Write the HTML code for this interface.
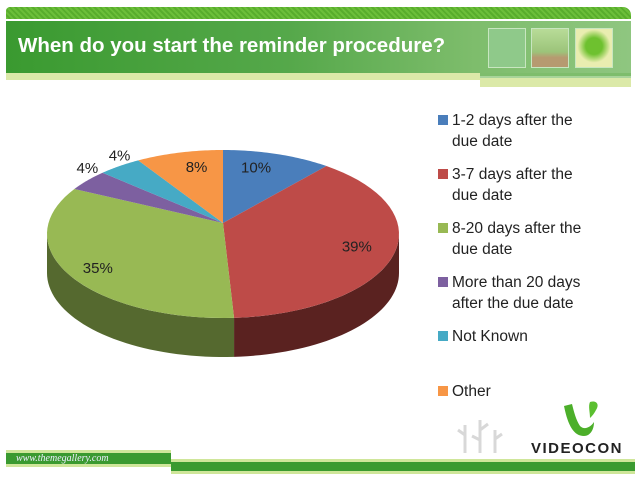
<!DOCTYPE html>
<html><head><meta charset="utf-8">
<style>
body{margin:0;width:638px;height:478px;overflow:hidden;background:#fff;font-family:"Liberation Sans",sans-serif;position:relative}
.abs{position:absolute}
.leg{position:absolute;left:452px;font-size:15.5px;color:#222;line-height:21px;font-family:"Liberation Sans",sans-serif}
.sw{position:absolute;left:438px;width:10px;height:10px}
</style></head><body>
<div class="abs" style="left:6px;top:7px;width:625px;height:12px;background:repeating-linear-gradient(45deg,#6cbf3a 0 2px,#58ad2c 2px 4px);border-radius:4px 8px 0 0"></div>
<div class="abs" style="left:6px;top:21px;width:625px;height:52px;background:linear-gradient(90deg,#3a9a30,#55a84a 45%,#7ebd6c 75%,#8fc680)"></div>
<div class="abs" style="left:6px;top:73px;width:474px;height:7px;background:#dbe9a8"></div>
<div class="abs" style="left:480px;top:73px;width:151px;height:14px;background:linear-gradient(#7ebd6c 0 3px,#a8d49a 3px 5px,#dbe9a8 5px)"></div>
<div class="abs" style="left:18px;top:34px;color:#fff;font-weight:bold;font-size:20.5px">When do you start the reminder procedure?</div>
<div class="abs" style="left:488px;top:28px;width:36px;height:38px;background:#8fc98a;border:1px solid #c8e6c0"></div>
<div class="abs" style="left:531px;top:28px;width:36px;height:38px;background:linear-gradient(#b8dc98,#9cc47a 60%,#b69a70 75%);border:1px solid #c8e6c0"></div>
<div class="abs" style="left:575px;top:28px;width:36px;height:38px;background:radial-gradient(circle at 50% 45%,#6ec12f 30%,#e9edb0 60%);border:1px solid #c8e6c0"></div>

<svg class="abs" style="left:0;top:0" width="638" height="478" id="pie"></svg>

<div class="sw" style="top:115px;background:#4a7ebb"></div>
<div class="leg" style="top:110px">1-2 days after the<br>due date</div>
<div class="sw" style="top:169px;background:#be4b48"></div>
<div class="leg" style="top:164px">3-7 days after the<br>due date</div>
<div class="sw" style="top:223px;background:#98b954"></div>
<div class="leg" style="top:218px">8-20 days after the<br>due date</div>
<div class="sw" style="top:277px;background:#7d60a0"></div>
<div class="leg" style="top:272px">More than 20 days<br>after the due date</div>
<div class="sw" style="top:331px;background:#46aac5"></div>
<div class="leg" style="top:326px">Not Known</div>
<div class="sw" style="top:386px;background:#f79646"></div>
<div class="leg" style="top:381px">Other</div>

<svg class="abs" style="left:455px;top:415px" width="60" height="40">
<g stroke="#d8d8d8" stroke-width="3" fill="none"><path d="M10 38 V10 M25 38 V5 M40 38 V15 M10 20 l-7 -5 M25 15 l8 -6 M40 24 l7 -5 M25 25 l-8 -4"/></g></svg>
<svg class="abs" style="left:560px;top:398px" width="44" height="44">
<path d="M4 8 C8 28 14 38 24 38 C30 38 34 32 34 24 C30 30 24 32 20 28 C16 22 14 14 12 6 Z" fill="#4caf2a"/>
<path d="M30 4 C36 2 40 6 36 12 C34 16 32 18 30 20 C30 14 28 8 30 4Z" fill="#5bbf30"/></svg>
<div class="abs" style="left:531px;top:440px;font-weight:bold;font-size:15px;color:#222;letter-spacing:1.5px">VIDEOCON</div>

<div class="abs" style="left:6px;top:450px;width:165px;height:17px;background:#cfe69a"></div>
<div class="abs" style="left:6px;top:453px;width:165px;height:11px;background:#3a9a30"></div>
<div class="abs" style="left:171px;top:459px;width:464px;height:15px;background:#cfe69a"></div>
<div class="abs" style="left:171px;top:462px;width:464px;height:9px;background:#3a9a30"></div>
<div class="abs" style="left:16px;top:453px;color:#eef;font-family:'Liberation Serif',serif;font-style:italic;font-size:10px">www.themegallery.com</div>

<script>
const categories=["1-2 days","3-7 days","8-20 days","Over 20 days","Not Known","Other"];
const values=[10,39,35,4,4,8];
const valueLabels=["10%","39%","35%","4%","4%","8%"];
const colors=["#4a7ebb","#be4b48","#98b954","#7d60a0","#46aac5","#f79646"];
const sideColors=["#2f4f78","#5a2220","#55692f","#4a3960","#2b6676","#9a5a2a"];
const cx=223,cy=234,rx=176,ry=84,depth=39,apexY=223;
const svg=document.getElementById('pie');
const NS='http://www.w3.org/2000/svg';
const total=values.reduce((a,b)=>a+b,0);
function pt(a,d){return [cx+rx*Math.sin(a),cy-ry*Math.cos(a)+(d||0)];}
let acc=0;const slices=[];
values.forEach((v,i)=>{const a0=acc/total*2*Math.PI;acc+=v;const a1=acc/total*2*Math.PI;slices.push([a0,a1]);});
slices.forEach(([a0,a1],i)=>{
  const s=Math.max(a0,Math.PI/2),e=Math.min(a1,3*Math.PI/2);
  if(e<=s)return;
  let top=[],bot=[];
  for(let k=0;k<=40;k++){const a=s+(e-s)*k/40;top.push(pt(a));bot.unshift(pt(a,depth));}
  const p=document.createElementNS(NS,'path');
  p.setAttribute('d','M'+top.concat(bot).map(q=>q.join(',')).join('L')+'Z');
  p.setAttribute('fill',sideColors[i]);
  
  
  svg.appendChild(p);
});
slices.forEach(([a0,a1],i)=>{
  let pts=[[cx,apexY]];
  for(let k=0;k<=40;k++)pts.push(pt(a0+(a1-a0)*k/40));
  const p=document.createElementNS(NS,'path');
  p.setAttribute('d','M'+pts.map(q=>q.join(',')).join('L')+'Z');
  p.setAttribute('fill',colors[i]);
  
  
  svg.appendChild(p);
  const m=(a0+a1)/2, s=Math.sin(m), c=Math.cos(m);
  const small=values[i]/total<0.06;
  let lx,ly;
  if(small){lx=cx+rx*s;ly=cy-ry*0.86*c-20+5;}
  else{const f=0.75-0.15*c,g=0.93-0.25*c;lx=cx+rx*f*s;ly=apexY-ry*g*c+5;}
  const t=document.createElementNS(NS,'text');
  t.setAttribute('x',lx);t.setAttribute('y',ly);
  t.setAttribute('text-anchor','middle');
  t.setAttribute('font-size','15');
  t.setAttribute('font-family','Liberation Sans, sans-serif');
  t.setAttribute('fill','#222');
  t.textContent=valueLabels[i];
  
  
  svg.appendChild(t);
});
</script>
</body></html>
